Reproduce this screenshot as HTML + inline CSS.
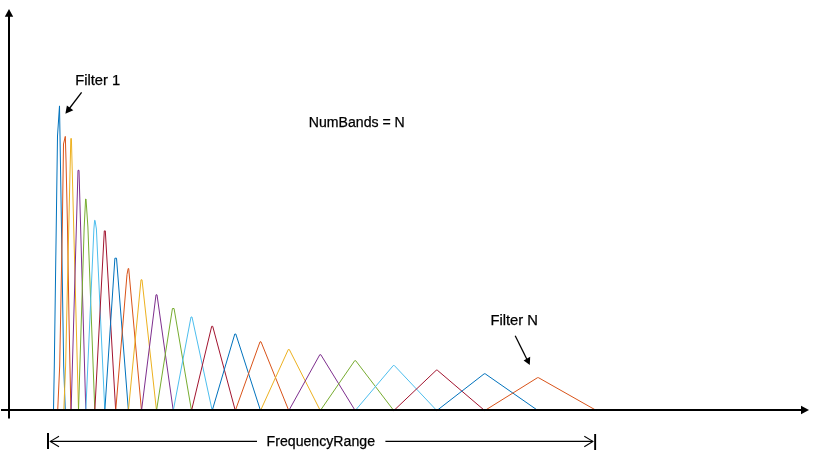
<!DOCTYPE html>
<html><head><meta charset="utf-8"><title>Filter bank</title>
<style>
html,body{margin:0;padding:0;background:#fff;}
svg{display:block;}
text{font-family:"Liberation Sans",sans-serif;font-size:14px;fill:#000;stroke:#000;stroke-width:0.25px;}
</style></head>
<body>
<svg width="818" height="460" viewBox="0 0 818 460">
<rect width="818" height="460" fill="#fff"/>
<g fill="none" stroke-width="1.0" stroke-linejoin="round" stroke-linecap="butt">
<polyline points="53.5,410.6 54.3,366 57.5,136 59.5,105.9 60,136 63.7,366 65.3,410.6" stroke="#0072BD"/>
<polyline points="57.7,410.6 59.7,366 62.3,227 63.5,144 65.3,136.4 66,160 67.5,227 69,320 70.9,410.6" stroke="#D95319"/>
<polyline points="63.8,410.6 65.6,366 70.8,138.5 71.4,138.5 78.5,410.6" stroke="#EDB120"/>
<polyline points="71.1,410.6 78.00,170.3 79.00,170.3 85.8,410.6" stroke="#7E2F8E"/>
<polyline points="78.5,410.6 84.2,227 85.6,199 86.0,199 87.9,227 94.8,410.6" stroke="#77AC30"/>
<polyline points="85.8,410.6 93.9,229 94.6,220.3 95.0,220.3 96.4,229 104.8,410.6" stroke="#4DBEEE"/>
<polyline points="94.8,410.6 104.30,230.9 105.30,230.9 115.7,410.6" stroke="#A2142F"/>
<polyline points="104.8,410.6 114.90,258.2 116.50,258.2 128.4,410.6" stroke="#0072BD"/>
<polyline points="115.7,410.6 127.0,274.5 128.2,268.5 128.7,268.5 141.5,410.6" stroke="#D95319"/>
<polyline points="128.4,410.6 141.00,279.8 142.00,279.8 156.5,410.6" stroke="#EDB120"/>
<polyline points="141.5,410.6 156.00,294.8 157.00,294.8 173.25,410.6" stroke="#7E2F8E"/>
<polyline points="156.5,410.6 172.45,308.5 174.05,308.5 191.5,410.6" stroke="#77AC30"/>
<polyline points="173.25,410.6 191.00,317.0 192.00,317.0 212.2,410.6" stroke="#4DBEEE"/>
<polyline points="191.5,410.6 211.70,326.3 212.70,326.3 235.3,410.6" stroke="#A2142F"/>
<polyline points="212.2,410.6 234.80,334.0 235.80,334.0 260.5,410.6" stroke="#0072BD"/>
<polyline points="235.3,410.6 260.00,341.8 261.00,341.8 288.8,410.6" stroke="#D95319"/>
<polyline points="260.5,410.6 288.30,349.5 289.30,349.5 320.3,410.6" stroke="#EDB120"/>
<polyline points="288.8,410.6 319.80,354.7 320.80,354.7 355.2,410.6" stroke="#7E2F8E"/>
<polyline points="320.3,410.6 354.70,360.7 355.70,360.7 393.8,410.6" stroke="#77AC30"/>
<polyline points="355.2,410.6 393.30,365.5 394.30,365.5 436.8,410.6" stroke="#4DBEEE"/>
<polyline points="393.8,410.6 436.30,370.2 437.30,370.2 484.7,410.6" stroke="#A2142F"/>
<polyline points="436.8,410.6 484.20,373.8 485.20,373.8 538,410.6" stroke="#0072BD"/>
<polyline points="484.7,410.6 537.50,377.7 538.50,377.7 596.6,410.6" stroke="#D95319"/>
</g>
<!-- axes -->
<rect x="8" y="15" width="2" height="403.5" fill="#000"/>
<polygon points="9,9 13.2,16.8 4.8,16.8" fill="#000"/>
<rect x="1" y="409" width="801" height="2" fill="#000"/>
<polygon points="809,410 801,405.8 801,414.2" fill="#000"/>
<!-- frequency range -->
<rect x="47" y="433" width="2" height="16" fill="#000"/>
<rect x="594.2" y="434" width="1.9" height="16" fill="#000"/>
<g stroke="#000" stroke-width="1.3" fill="none">
<line x1="50.5" y1="441.4" x2="257" y2="441.4"/>
<line x1="385.4" y1="441.4" x2="593" y2="441.4"/>
<polyline points="59,436.3 50.3,441.4 59,446.8" stroke-width="1.1"/>
<polyline points="584.3,436.3 592.9,441.4 584.3,446.8" stroke-width="1.1"/>
<line x1="81.6" y1="92.4" x2="69" y2="109"/>
<line x1="515.2" y1="335.7" x2="527" y2="359.5"/>
</g>
<polygon points="65.4,113.8 66.9,105.6 73.3,110.3" fill="#000"/>
<polygon points="529.8,365 523.6,360.6 530.2,356.8" fill="#000"/>
<text x="75.2" y="85" textLength="45" lengthAdjust="spacingAndGlyphs">Filter 1</text>
<text x="308.8" y="127" textLength="96" lengthAdjust="spacingAndGlyphs">NumBands = N</text>
<text x="490.4" y="325" textLength="47.5" lengthAdjust="spacingAndGlyphs">Filter N</text>
<text x="266.6" y="446" textLength="108.4" lengthAdjust="spacingAndGlyphs">FrequencyRange</text>
</svg>
</body></html>
